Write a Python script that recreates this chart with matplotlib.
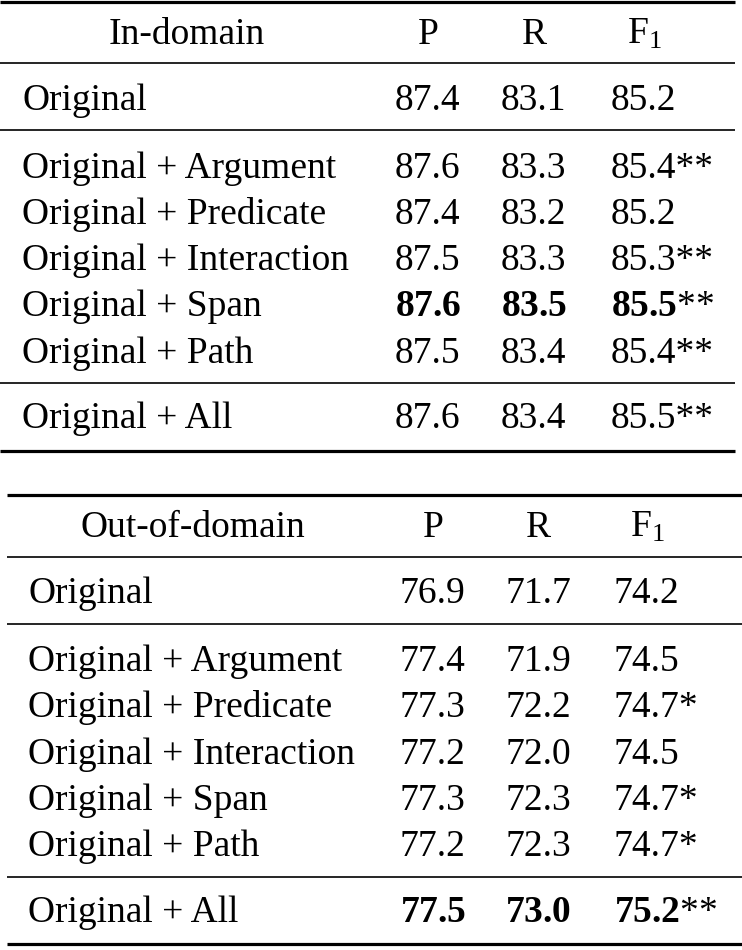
import matplotlib
matplotlib.use("Agg")
import matplotlib.pyplot as plt

plt.rcParams["font.family"] = ["Liberation Serif", "DejaVu Serif"]
plt.rcParams["mathtext.fontset"] = "custom"
plt.rcParams["mathtext.rm"] = "Liberation Serif"
plt.rcParams["mathtext.it"] = "Liberation Serif:italic"
plt.rcParams["mathtext.bf"] = "Liberation Serif:bold"

# table data
rows = ["Original", "Original + Argument", "Original + Predicate",
        "Original + Interaction", "Original + Span", "Original + Path",
        "Original + All"]
col_heads = ["P", "R", "F$_1$"]

in_p = [87.4, 87.6, 87.4, 87.5, 87.6, 87.5, 87.6]
in_r = [83.1, 83.3, 83.2, 83.3, 83.5, 83.4, 83.4]
in_f = [85.2, 85.4, 85.2, 85.3, 85.5, 85.4, 85.5]
in_sig = ["", "**", "", "**", "**", "**", "**"]
in_bold = [4]

out_p = [76.9, 77.4, 77.3, 77.2, 77.3, 77.2, 77.5]
out_r = [71.7, 71.9, 72.2, 72.0, 72.3, 72.3, 73.0]
out_f = [74.2, 74.5, 74.7, 74.5, 74.7, 74.7, 75.2]
out_sig = ["", "", "*", "", "*", "*", "**"]
out_bold = [6]

W, H = 742, 950
fig = plt.figure(figsize=(W / 100, H / 100), dpi=100)
ax = fig.add_axes([0, 0, 1, 1])
ax.set_xlim(0, W)
ax.set_ylim(H, 0)
ax.axis("off")

FS = 27
CAP = 12.5  # half cap height in px


def draw_table(y0, title, p, r, f, sig, bold, x_lab, x_cols, x_rule):
    # rules
    ax.hlines([y0 + 1.5, y0 + 450.5], x_rule[0], x_rule[1], color="black", lw=2.3)
    ax.hlines([y0 + 63, y0 + 130, y0 + 383], x_rule[0], x_rule[1], color="black", lw=1.2)

    # header
    ax.text(x_lab + 165, y0 + 31 + CAP, title, fontsize=FS, ha="center", va="baseline")
    for h, xc in zip(col_heads, x_cols):
        ax.text(xc + 33, y0 + 31 + CAP, h, fontsize=FS, ha="center", va="baseline")

    # row centres
    ys = [y0 + 97] + [y0 + 165 + 46.3 * i for i in range(5)] + [y0 + 416]
    for i, (lab, y) in enumerate(zip(rows, ys)):
        ax.text(x_lab, y + CAP, lab, fontsize=FS, ha="left", va="baseline")
        vals = [p[i], r[i], f[i]]
        for j, (v, xc) in enumerate(zip(vals, x_cols)):
            s = f"{v:.1f}"
            if i in bold:
                s = r"$\mathbf{" + s + "}$"
            if j == 2:
                s += sig[i]
            ax.text(xc, y + CAP, s, fontsize=FS, ha="left", va="baseline")


draw_table(0, "In-domain", in_p, in_r, in_f, in_sig, in_bold,
           22, [395, 501, 611], (0, 735))
draw_table(493.5, "Out-of-domain", out_p, out_r, out_f, out_sig, out_bold,
           28, [400, 505, 614], (7, 742))

fig.savefig("out.png", dpi=100)
